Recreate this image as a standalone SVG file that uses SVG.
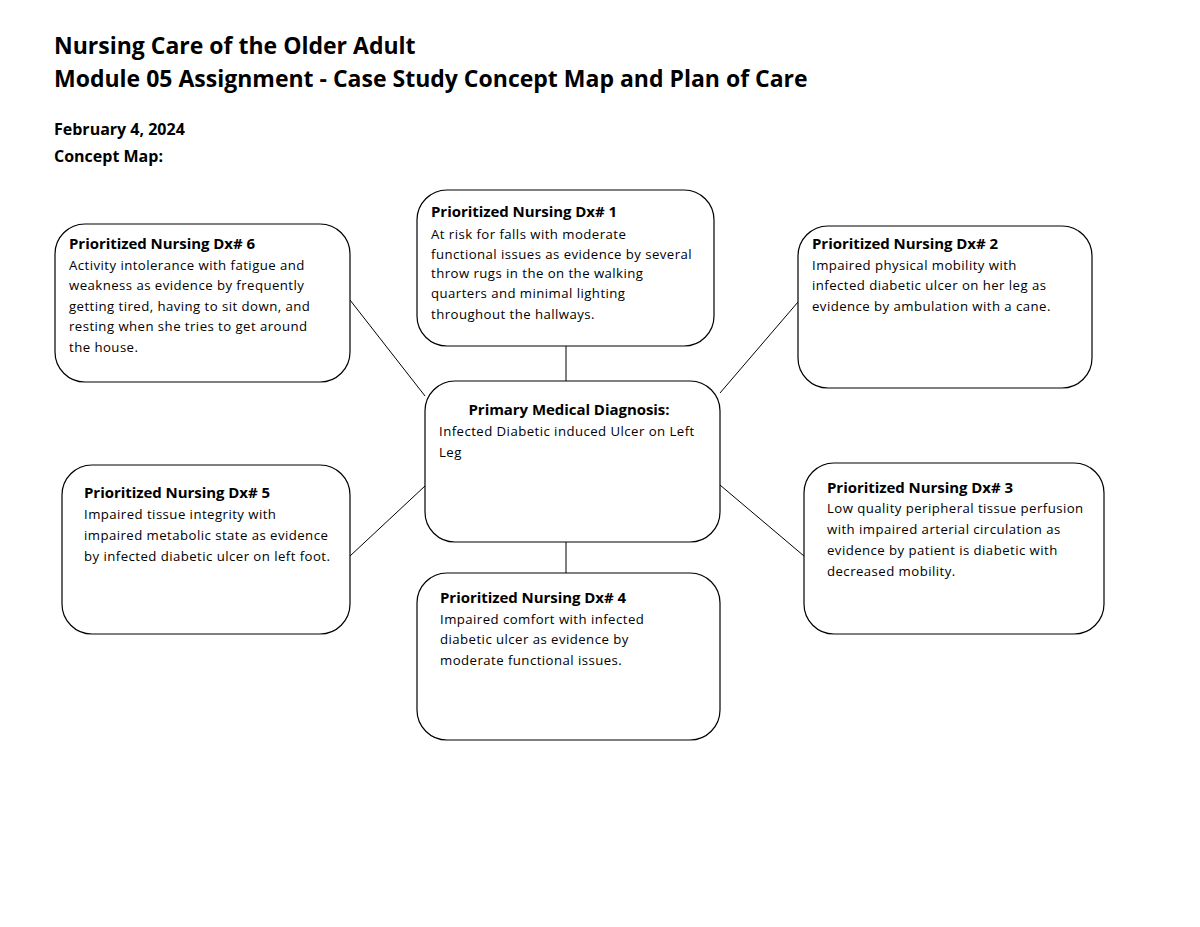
<svg xmlns="http://www.w3.org/2000/svg" width="1200" height="927" viewBox="0 0 1200 927">
<style>
text{font-family:"Open Sans","Noto Sans",sans-serif;fill:#000}
.t{font-size:23px;font-weight:bold}
.d{font-size:16px;font-weight:bold}
.h{font-size:15px;font-weight:bold;letter-spacing:-0.05px}
.b{font-size:13.2px;letter-spacing:0.45px}
.box{fill:#fff;stroke:#000;stroke-width:1.2}
.c{stroke:#000;stroke-width:1}
</style>
<rect width="1200" height="927" fill="#fff"/>
<text class="t" x="54" y="54">Nursing Care of the Older Adult</text>
<text class="t" x="54" y="87">Module 05 Assignment - Case Study Concept Map and Plan of Care</text>
<text class="d" x="54" y="135">February 4, 2024</text>
<text class="d" x="54" y="162">Concept Map:</text>
<g id="connectors">
<line class="c" x1="566" y1="346" x2="566" y2="381"/>
<line class="c" x1="350" y1="300" x2="425" y2="396"/>
<line class="c" x1="720" y1="393" x2="798" y2="302"/>
<line class="c" x1="350" y1="556" x2="425" y2="486"/>
<line class="c" x1="720" y1="485" x2="804" y2="556"/>
<line class="c" x1="566" y1="542" x2="566" y2="573"/>
</g>
<g id="dx1"><rect class="box" x="417" y="190" width="297" height="156" rx="30"/>
<text class="h" x="431" y="217">Prioritized Nursing Dx# 1</text>
<text class="b" x="431" y="239">At risk for falls with moderate</text>
<text class="b" x="431" y="259">functional issues as evidence by several</text>
<text class="b" x="431" y="278">throw rugs in the on the walking</text>
<text class="b" x="431" y="298">quarters and minimal lighting</text>
<text class="b" x="431" y="319">throughout the hallways.</text></g>
<g id="dx6"><rect class="box" x="55" y="224" width="295" height="158" rx="30"/>
<text class="h" x="69" y="249">Prioritized Nursing Dx# 6</text>
<text class="b" x="69" y="270">Activity intolerance with fatigue and</text>
<text class="b" x="69" y="290">weakness as evidence by frequently</text>
<text class="b" x="69" y="311">getting tired, having to sit down, and</text>
<text class="b" x="69" y="331">resting when she tries to get around</text>
<text class="b" x="69" y="352">the house.</text></g>
<g id="dx2"><rect class="box" x="798" y="226" width="294" height="162" rx="30"/>
<text class="h" x="812" y="249">Prioritized Nursing Dx# 2</text>
<text class="b" x="812" y="270">Impaired physical mobility with</text>
<text class="b" x="812" y="290">infected diabetic ulcer on her leg as</text>
<text class="b" x="812" y="311">evidence by ambulation with a cane.</text></g>
<g id="primary"><rect class="box" x="425" y="381" width="295" height="161" rx="30"/>
<text class="h" x="569" y="415" text-anchor="middle">Primary Medical Diagnosis:</text>
<text class="b" x="439" y="436">Infected Diabetic induced Ulcer on Left</text>
<text class="b" x="439" y="457">Leg</text></g>
<g id="dx5"><rect class="box" x="62" y="465" width="288" height="169" rx="30"/>
<text class="h" x="84" y="498">Prioritized Nursing Dx# 5</text>
<text class="b" x="84" y="519">Impaired tissue integrity with</text>
<text class="b" x="84" y="540">impaired metabolic state as evidence</text>
<text class="b" x="84" y="561">by infected diabetic ulcer on left foot.</text></g>
<g id="dx3"><rect class="box" x="804" y="463" width="300" height="171" rx="30"/>
<text class="h" x="827" y="493">Prioritized Nursing Dx# 3</text>
<text class="b" x="827" y="513">Low quality peripheral tissue perfusion</text>
<text class="b" x="827" y="534">with impaired arterial circulation as</text>
<text class="b" x="827" y="555">evidence by patient is diabetic with</text>
<text class="b" x="827" y="576">decreased mobility.</text></g>
<g id="dx4"><rect class="box" x="417" y="573" width="303" height="167" rx="30"/>
<text class="h" x="440" y="603">Prioritized Nursing Dx# 4</text>
<text class="b" x="440" y="624">Impaired comfort with infected</text>
<text class="b" x="440" y="644">diabetic ulcer as evidence by</text>
<text class="b" x="440" y="665">moderate functional issues.</text></g>
</svg>
